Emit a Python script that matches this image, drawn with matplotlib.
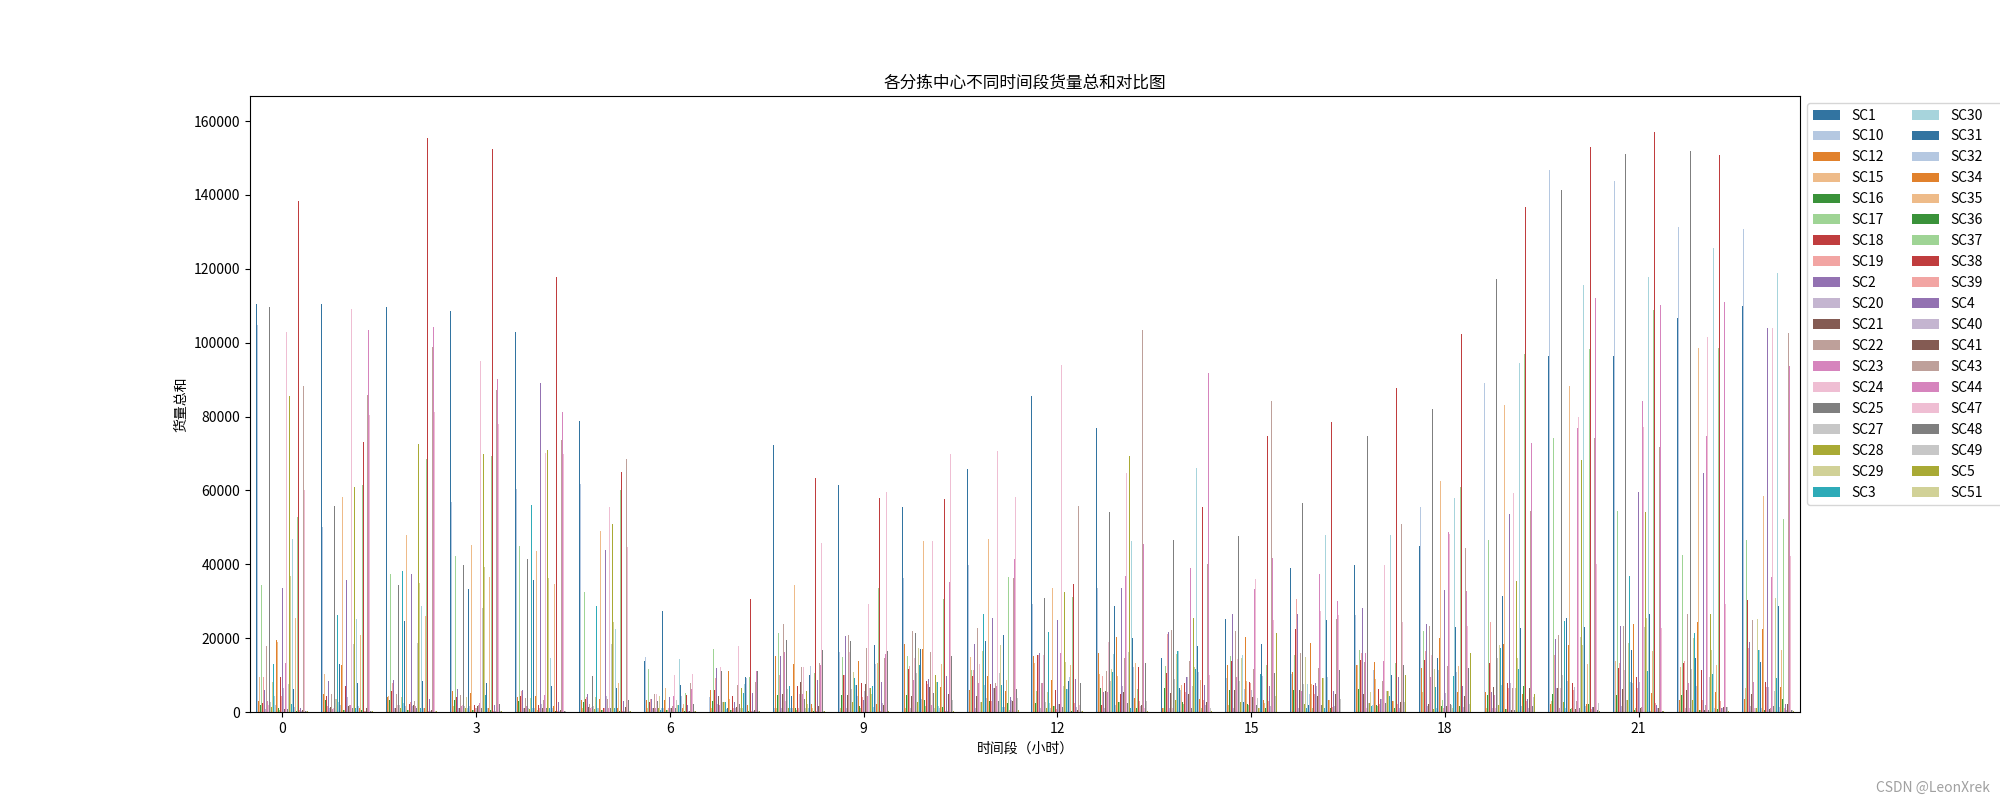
import colorsys
import numpy as np
import matplotlib
matplotlib.use("Agg")
import matplotlib.pyplot as plt

plt.rcParams['font.family'] = ['Noto Sans CJK SC', 'DejaVu Sans']
plt.rcParams['axes.unicode_minus'] = False

# ---------------- data (values in thousands of units) ----------------
centers = ['SC1', 'SC10', 'SC12', 'SC15', 'SC16', 'SC17', 'SC18', 'SC19', 'SC2', 'SC20',
           'SC21', 'SC22', 'SC23', 'SC24', 'SC25', 'SC27', 'SC28', 'SC29', 'SC3', 'SC30',
           'SC31', 'SC32', 'SC34', 'SC35', 'SC36', 'SC37', 'SC38', 'SC39', 'SC4', 'SC40',
           'SC41', 'SC43', 'SC44', 'SC47', 'SC48', 'SC49', 'SC5', 'SC51', 'SC52', 'SC53',
           'SC54', 'SC55', 'SC56', 'SC57', 'SC58', 'SC6', 'SC60', 'SC61', 'SC62', 'SC63',
           'SC64', 'SC66', 'SC67', 'SC68', 'SC7', 'SC8', 'SC9']
hours = list(range(24))
xtick_labels = ['0', '3', '6', '9', '12', '15', '18', '21']

h00 = [110.6, 104.7, 3.0, 9.4, 1.8, 34.3, 2.4, 9.4, 5.9, 0.8, 1.5, 17.9, 3.0, 2.0, 109.8, 2.7, 1.3, 8.0, 12.9, 4.3,
       2.3, 2.0, 19.5, 19.0, 1.0, 0.5, 9.4, 4.3, 33.5, 6.4, 0.8, 0.7, 13.4, 102.9, 0.8, 7.5, 85.6, 36.8, 2.1, 46.8,
       6.2, 1.3, 1.0, 25.4, 0.3, 52.8, 138.4, 0.5, 1.1, 0.3, 0.6, 88.3, 0.5, 60.1, 0.2, 0.2, 0.3]
h01 = [110.4, 50.0, 4.8, 10.3, 3.3, 2.0, 4.3, 1.5, 8.4, 1.0, 1.3, 4.8, 0.8, 1.0, 55.8, 3.5, 1.0, 3.4, 26.2, 2.6,
       12.9, 2.0, 12.6, 58.1, 0.5, 0.5, 7.0, 2.0, 35.7, 4.0, 1.5, 2.0, 1.8, 109.2, 1.0, 18.4, 61.0, 4.8, 1.2, 25.2,
       7.8, 1.5, 1.0, 20.8, 0.5, 61.4, 73.0, 0.3, 0.6, 0.3, 1.0, 85.8, 103.5, 80.4, 0.3, 0.2, 0.2]
h02 = [109.7, 2.0, 4.0, 4.2, 3.2, 37.3, 5.7, 7.8, 8.6, 1.0, 1.0, 5.0, 1.5, 2.0, 34.3, 2.0, 1.0, 4.0, 38.1, 2.5,
       24.6, 1.5, 3.0, 47.9, 0.5, 0.5, 2.2, 2.7, 37.5, 1.5, 2.0, 3.0, 1.5, 2.0, 1.0, 18.6, 72.5, 34.9, 1.0, 28.6,
       8.4, 1.0, 1.0, 25.9, 0.3, 68.4, 155.5, 0.3, 3.4, 0.3, 0.5, 98.9, 104.2, 81.1, 0.3, 0.2, 0.2]
h03 = [108.6, 56.9, 5.7, 1.5, 3.3, 42.2, 4.0, 2.0, 6.2, 1.0, 1.2, 4.5, 1.5, 2.0, 39.7, 1.5, 1.0, 4.0, 1.5, 1.0,
       33.3, 1.5, 5.2, 45.2, 0.5, 0.5, 1.8, 1.0, 1.5, 1.0, 1.5, 2.0, 2.5, 95.0, 1.0, 28.2, 69.8, 39.3, 4.5, 2.0,
       7.8, 1.0, 1.0, 36.5, 0.5, 69.3, 152.4, 0.3, 1.8, 0.3, 0.5, 87.2, 90.2, 78.0, 2.3, 0.2, 0.2]
h04 = [102.9, 60.4, 4.0, 1.0, 3.0, 44.9, 4.3, 5.7, 5.9, 1.0, 1.2, 3.8, 1.5, 2.0, 41.4, 1.0, 0.8, 3.8, 56.0, 1.0,
       35.7, 1.0, 4.2, 43.6, 0.5, 0.5, 1.8, 1.0, 89.1, 2.2, 1.0, 3.2, 4.5, 70.0, 1.0, 0.8, 70.9, 36.2, 1.0, 14.6,
       7.0, 1.0, 1.5, 34.6, 0.3, 0.5, 117.8, 0.3, 2.7, 0.3, 0.5, 73.6, 81.2, 69.8, 0.3, 0.2, 0.2]
h05 = [78.8, 61.7, 3.2, 1.0, 2.6, 32.4, 3.4, 4.0, 4.8, 1.0, 1.3, 2.2, 1.2, 1.3, 9.8, 1.6, 0.8, 4.0, 28.7, 1.0,
       1.0, 1.0, 3.4, 48.9, 0.5, 0.5, 1.2, 1.0, 43.8, 4.3, 1.0, 3.4, 1.0, 55.5, 1.0, 18.4, 50.9, 24.4, 1.0, 22.4,
       6.4, 1.0, 1.0, 7.8, 0.3, 60.1, 65.0, 0.3, 2.9, 0.3, 1.3, 68.4, 1.0, 44.7, 3.2, 0.2, 0.2]
h06 = [13.8, 14.9, 3.2, 1.0, 1.0, 11.6, 2.7, 3.5, 3.4, 1.0, 1.2, 4.8, 1.0, 4.8, 2.9, 1.0, 1.0, 4.3, 0.6, 1.0,
       27.3, 1.0, 3.2, 6.4, 0.5, 0.5, 1.0, 1.0, 4.0, 1.0, 1.1, 1.5, 4.3, 10.0, 1.0, 3.2, 2.2, 1.9, 1.9, 14.4,
       7.3, 4.3, 1.0, 2.2, 0.3, 5.1, 4.6, 0.3, 1.9, 0.3, 0.3, 7.8, 6.2, 10.3, 2.2, 0.2, 0.2]
h07 = [0.5, 4.0, 5.9, 1.0, 2.9, 17.0, 5.9, 9.2, 11.9, 2.2, 4.3, 1.5, 2.0, 12.1, 11.0, 2.7, 2.7, 2.7, 2.7, 0.7,
       1.0, 1.0, 11.0, 3.4, 0.5, 0.5, 4.3, 1.0, 2.7, 1.0, 1.3, 7.3, 1.0, 17.9, 2.2, 1.0, 6.4, 1.0, 5.1, 7.5,
       9.4, 9.2, 1.8, 1.0, 0.3, 9.4, 30.5, 0.3, 5.1, 0.3, 0.5, 8.0, 11.0, 2.0, 11.0, 0.2, 0.2]
h08 = [72.3, 1.0, 15.1, 1.0, 4.6, 21.3, 2.0, 10.0, 15.1, 1.0, 4.8, 23.8, 16.2, 3.0, 19.5, 6.2, 1.0, 1.0, 7.0, 1.0,
       4.3, 1.0, 13.0, 34.4, 1.1, 0.5, 7.0, 1.0, 5.5, 4.9, 8.0, 12.1, 5.0, 12.1, 3.4, 1.0, 5.7, 2.2, 1.0, 1.0,
       10.0, 12.4, 2.2, 1.0, 0.3, 10.5, 63.3, 0.3, 8.6, 0.3, 1.6, 13.2, 12.8, 45.7, 16.7, 0.2, 0.2]
h09 = [61.5, 16.2, 1.0, 1.0, 4.6, 14.9, 10.0, 10.0, 20.6, 1.0, 4.6, 20.8, 1.0, 16.2, 19.2, 6.2, 2.7, 10.8, 9.2, 7.3,
       7.3, 4.3, 13.8, 2.4, 1.6, 1.0, 7.8, 4.0, 3.2, 5.7, 7.5, 17.2, 4.3, 29.2, 3.7, 6.4, 6.4, 4.8, 7.0, 1.3,
       18.1, 13.0, 2.2, 13.3, 0.3, 33.5, 57.9, 0.3, 8.0, 2.4, 1.8, 14.6, 15.6, 59.5, 16.5, 0.2, 0.2]
h10 = [55.5, 36.2, 18.4, 1.0, 4.6, 15.1, 11.6, 12.4, 1.0, 1.0, 4.3, 21.8, 8.6, 14.6, 21.3, 10.5, 2.7, 17.2, 12.6, 1.0,
       17.0, 3.4, 17.0, 46.3, 3.2, 1.6, 8.4, 7.5, 8.9, 1.0, 6.7, 16.2, 1.8, 46.3, 5.1, 1.0, 10.0, 8.0, 8.0, 1.6,
       11.9, 1.0, 6.7, 13.0, 1.3, 30.5, 57.6, 0.3, 9.8, 0.3, 4.8, 2.2, 35.1, 69.8, 15.1, 3.2, 0.2]
h11 = [65.8, 39.7, 5.9, 14.9, 1.0, 11.4, 9.8, 11.4, 18.4, 1.0, 4.3, 22.7, 7.8, 13.0, 1.0, 2.7, 2.7, 16.5, 26.5, 7.3,
       19.2, 3.7, 9.8, 46.8, 2.9, 1.0, 7.5, 2.9, 25.4, 6.4, 6.4, 7.8, 7.0, 70.7, 2.9, 10.5, 1.0, 18.1, 7.3, 1.3,
       20.8, 1.3, 5.7, 8.7, 2.4, 36.5, 3.0, 0.5, 4.0, 3.2, 2.9, 36.2, 41.4, 58.2, 6.2, 3.7, 0.5]
h12 = [85.6, 29.2, 15.1, 13.3, 2.4, 5.7, 15.4, 15.4, 16.0, 1.0, 13.5, 7.8, 7.8, 15.4, 30.8, 2.7, 1.1, 5.4, 21.6, 2.4,
       1.0, 1.0, 8.7, 33.5, 1.6, 1.6, 5.9, 0.8, 24.8, 2.2, 2.2, 16.0, 16.0, 93.9, 1.3, 7.0, 32.4, 13.5, 6.2, 6.2,
       8.4, 9.4, 1.0, 12.7, 0.3, 31.1, 34.6, 2.4, 8.9, 1.3, 0.6, 55.8, 15.6, 2.0, 7.8, 0.2, 0.2]
h13 = [76.9, 33.5, 16.0, 10.3, 6.4, 5.4, 2.0, 9.8, 5.4, 1.0, 5.7, 11.0, 5.4, 19.0, 54.1, 8.4, 1.0, 11.6, 10.8, 15.6,
       28.7, 1.8, 20.2, 9.8, 2.7, 2.7, 4.8, 1.0, 33.5, 7.0, 5.4, 14.6, 36.8, 64.7, 2.4, 16.2, 69.3, 3.8, 1.0, 46.3,
       20.0, 12.1, 3.8, 13.3, 1.0, 6.2, 12.1, 2.9, 2.2, 1.5, 1.8, 103.5, 45.4, 1.0, 13.3, 2.9, 0.2]
h14 = [14.6, 14.0, 1.0, 1.0, 6.4, 12.4, 10.5, 21.1, 21.6, 1.0, 5.1, 22.1, 16.7, 1.0, 46.5, 8.9, 3.2, 15.6, 16.5, 16.5,
       6.4, 5.9, 1.0, 7.3, 2.7, 2.2, 7.8, 5.5, 9.4, 9.4, 4.8, 13.8, 39.0, 2.2, 1.0, 7.0, 25.4, 12.1, 11.6, 66.1,
       17.9, 10.8, 3.4, 8.7, 6.4, 1.0, 55.5, 3.2, 7.3, 1.8, 2.7, 40.1, 91.8, 10.0, 4.3, 1.0, 0.2]
h15 = [25.2, 9.2, 12.7, 1.8, 5.9, 15.1, 13.8, 1.0, 26.5, 1.0, 5.9, 21.8, 9.4, 14.4, 47.7, 8.4, 2.7, 14.6, 1.0, 15.4,
       2.7, 6.2, 20.2, 8.4, 2.2, 1.8, 8.0, 7.8, 1.0, 5.9, 4.0, 11.6, 33.3, 36.0, 1.8, 3.8, 1.0, 1.0, 10.3, 9.8,
       18.4, 9.8, 3.2, 2.4, 1.0, 12.7, 74.8, 2.9, 7.0, 1.6, 1.0, 84.2, 41.7, 24.8, 10.5, 4.3, 21.3]
h16 = [39.0, 10.3, 10.8, 1.0, 5.9, 15.4, 22.4, 30.5, 26.5, 1.0, 5.9, 16.0, 5.7, 1.0, 56.5, 7.5, 2.2, 14.9, 1.0, 7.5,
       1.8, 4.8, 18.6, 7.5, 1.8, 1.0, 7.3, 4.8, 7.8, 7.0, 4.3, 11.9, 37.4, 27.3, 1.8, 9.2, 9.2, 9.2, 1.0, 47.9,
       24.8, 9.4, 3.2, 3.2, 1.0, 1.0, 78.5, 1.3, 5.7, 1.6, 4.8, 25.2, 30.0, 26.2, 11.4, 3.4, 1.0]
h17 = [39.7, 26.2, 12.7, 12.7, 6.2, 16.7, 14.0, 16.0, 28.2, 1.0, 4.8, 13.5, 16.0, 1.0, 74.8, 2.4, 2.4, 5.4, 1.5, 1.8,
       1.6, 11.4, 13.5, 8.9, 1.8, 1.6, 6.2, 2.2, 3.4, 3.4, 1.0, 8.4, 13.8, 39.7, 2.4, 5.7, 5.7, 5.7, 4.3, 47.9,
       10.0, 2.2, 3.0, 3.0, 1.0, 13.3, 87.7, 2.2, 9.4, 1.0, 2.7, 50.9, 1.5, 24.3, 12.6, 2.7, 10.0]
h18 = [44.9, 55.5, 11.9, 5.4, 1.0, 21.8, 14.0, 16.5, 23.8, 1.6, 2.2, 23.2, 9.4, 15.4, 82.0, 15.4, 0.8, 11.6, 6.7, 1.0,
       14.6, 11.4, 20.0, 62.5, 1.6, 3.2, 6.2, 1.0, 33.0, 5.1, 1.6, 12.4, 48.7, 48.3, 2.2, 1.8, 12.4, 1.0, 9.8, 57.9,
       23.0, 10.8, 5.4, 12.4, 1.6, 61.0, 102.4, 1.0, 7.0, 1.3, 4.3, 44.3, 32.8, 23.2, 11.9, 2.2, 16.0]
h19 = [1.0, 89.1, 5.4, 1.0, 4.6, 46.5, 13.3, 24.3, 5.4, 1.0, 6.7, 6.7, 4.6, 1.0, 117.3, 14.6, 1.8, 18.1, 17.2, 7.3,
       31.4, 1.0, 18.4, 83.1, 0.8, 0.8, 7.8, 6.4, 53.5, 7.8, 0.6, 6.4, 1.0, 59.2, 0.6, 6.4, 35.4, 14.6, 11.6, 94.5,
       22.7, 1.6, 4.8, 1.0, 7.0, 96.9, 136.8, 2.9, 3.4, 1.0, 6.4, 54.4, 72.8, 1.0, 1.6, 4.0, 4.8]
h20 = [96.4, 146.7, 2.2, 2.9, 4.8, 74.2, 1.0, 15.4, 19.7, 6.4, 6.4, 20.8, 1.0, 6.4, 141.4, 10.0, 2.7, 1.0, 24.6, 1.0,
       25.4, 8.4, 18.1, 88.2, 0.7, 1.0, 7.8, 5.9, 1.0, 6.7, 0.7, 2.9, 76.9, 79.9, 1.0, 20.4, 68.2, 18.1, 1.0, 115.6,
       23.0, 1.6, 2.2, 13.0, 2.2, 98.3, 152.9, 0.7, 1.3, 1.0, 1.3, 74.2, 112.1, 40.1, 0.5, 2.4, 0.3]
h21 = [96.4, 143.9, 1.0, 13.8, 4.6, 54.4, 11.9, 13.3, 23.2, 1.6, 6.2, 23.2, 1.0, 11.4, 151.0, 3.2, 3.2, 18.6, 36.8, 8.0,
       16.7, 7.8, 23.8, 0.5, 0.5, 1.0, 9.4, 6.4, 59.5, 8.0, 1.0, 1.3, 84.2, 77.1, 1.0, 23.0, 54.1, 25.4, 11.0, 117.9,
       26.5, 0.3, 5.1, 16.5, 1.0, 108.8, 157.0, 2.4, 1.8, 1.0, 1.0, 71.8, 110.2, 22.7, 0.3, 0.2, 0.2]
h22 = [106.7, 131.3, 3.2, 12.1, 4.6, 42.5, 13.3, 13.8, 6.0, 1.0, 5.9, 26.5, 7.8, 1.0, 151.9, 11.6, 3.2, 20.0, 21.3, 1.0,
       14.6, 7.0, 24.3, 98.5, 0.5, 0.5, 11.4, 3.2, 64.7, 1.8, 0.5, 2.0, 74.8, 101.5, 0.5, 9.4, 26.5, 16.7, 10.3, 125.6,
       0.6, 1.0, 5.4, 12.6, 0.7, 98.5, 150.8, 2.9, 1.0, 1.0, 1.3, 1.3, 111.0, 29.2, 1.3, 1.3, 0.2]
h23 = [109.9, 130.8, 3.4, 6.4, 3.2, 46.5, 30.3, 17.3, 19.0, 1.6, 4.8, 24.8, 8.0, 1.0, 16.4, 1.0, 1.0, 25.2, 16.7, 16.7,
       13.5, 1.0, 22.4, 58.5, 0.5, 1.0, 8.0, 6.7, 104.0, 6.7, 0.7, 1.0, 36.5, 104.0, 1.5, 5.7, 1.0, 30.8, 9.2, 118.9,
       28.6, 1.4, 6.9, 16.9, 3.4, 52.3, 2.2, 1.0, 2.2, 0.5, 2.2, 102.6, 93.7, 42.2, 0.5, 0.5, 0.2]

hour_rows = [h00, h01, h02, h03, h04, h05, h06, h07, h08, h09, h10, h11,
             h12, h13, h14, h15, h16, h17, h18, h19, h20, h21, h22, h23]
values = np.array(hour_rows) * 1000.0   # shape (24 hours, 57 centres)


def desaturate(c, prop=0.75):
    h, l, s = colorsys.rgb_to_hls(*c[:3])
    return colorsys.hls_to_rgb(h, l, s * prop)


base = plt.cm.tab20.colors
colors = [desaturate(base[i % 20]) for i in range(len(centers))]

fig = plt.figure(figsize=(20, 8), dpi=100)
ax = fig.add_axes([0.125, 0.11, 0.775, 0.77])

n = len(centers)
group_w = 0.8
bw = group_w / n
x = np.arange(len(hours))
for i, name in enumerate(centers):
    offs = -group_w / 2 + (i + 0.5) * bw
    ax.bar(x + offs, values[:, i], width=bw, color=colors[i], label=name, linewidth=0)

ax.set_xlim(-0.5, len(hours) - 0.5)
ax.set_xticks([int(t) for t in xtick_labels])
ax.set_xticklabels(xtick_labels)
ax.set_ylim(0, 166800)
ax.set_yticks(np.arange(0, 160001, 20000))
ax.set_title('各分拣中心不同时间段货量总和对比图', fontsize=12)
ax.set_xlabel('时间段（小时）')
ax.set_ylabel('货量总和')
ax.legend(ncol=3, bbox_to_anchor=(1.0, 1.0), loc='upper left')

fig.text(0.995, 0.006, 'CSDN @LeonXrek', ha='right', va='bottom', fontsize=10, color='#a0a0a0')

fig.savefig('out.png', dpi=100)
